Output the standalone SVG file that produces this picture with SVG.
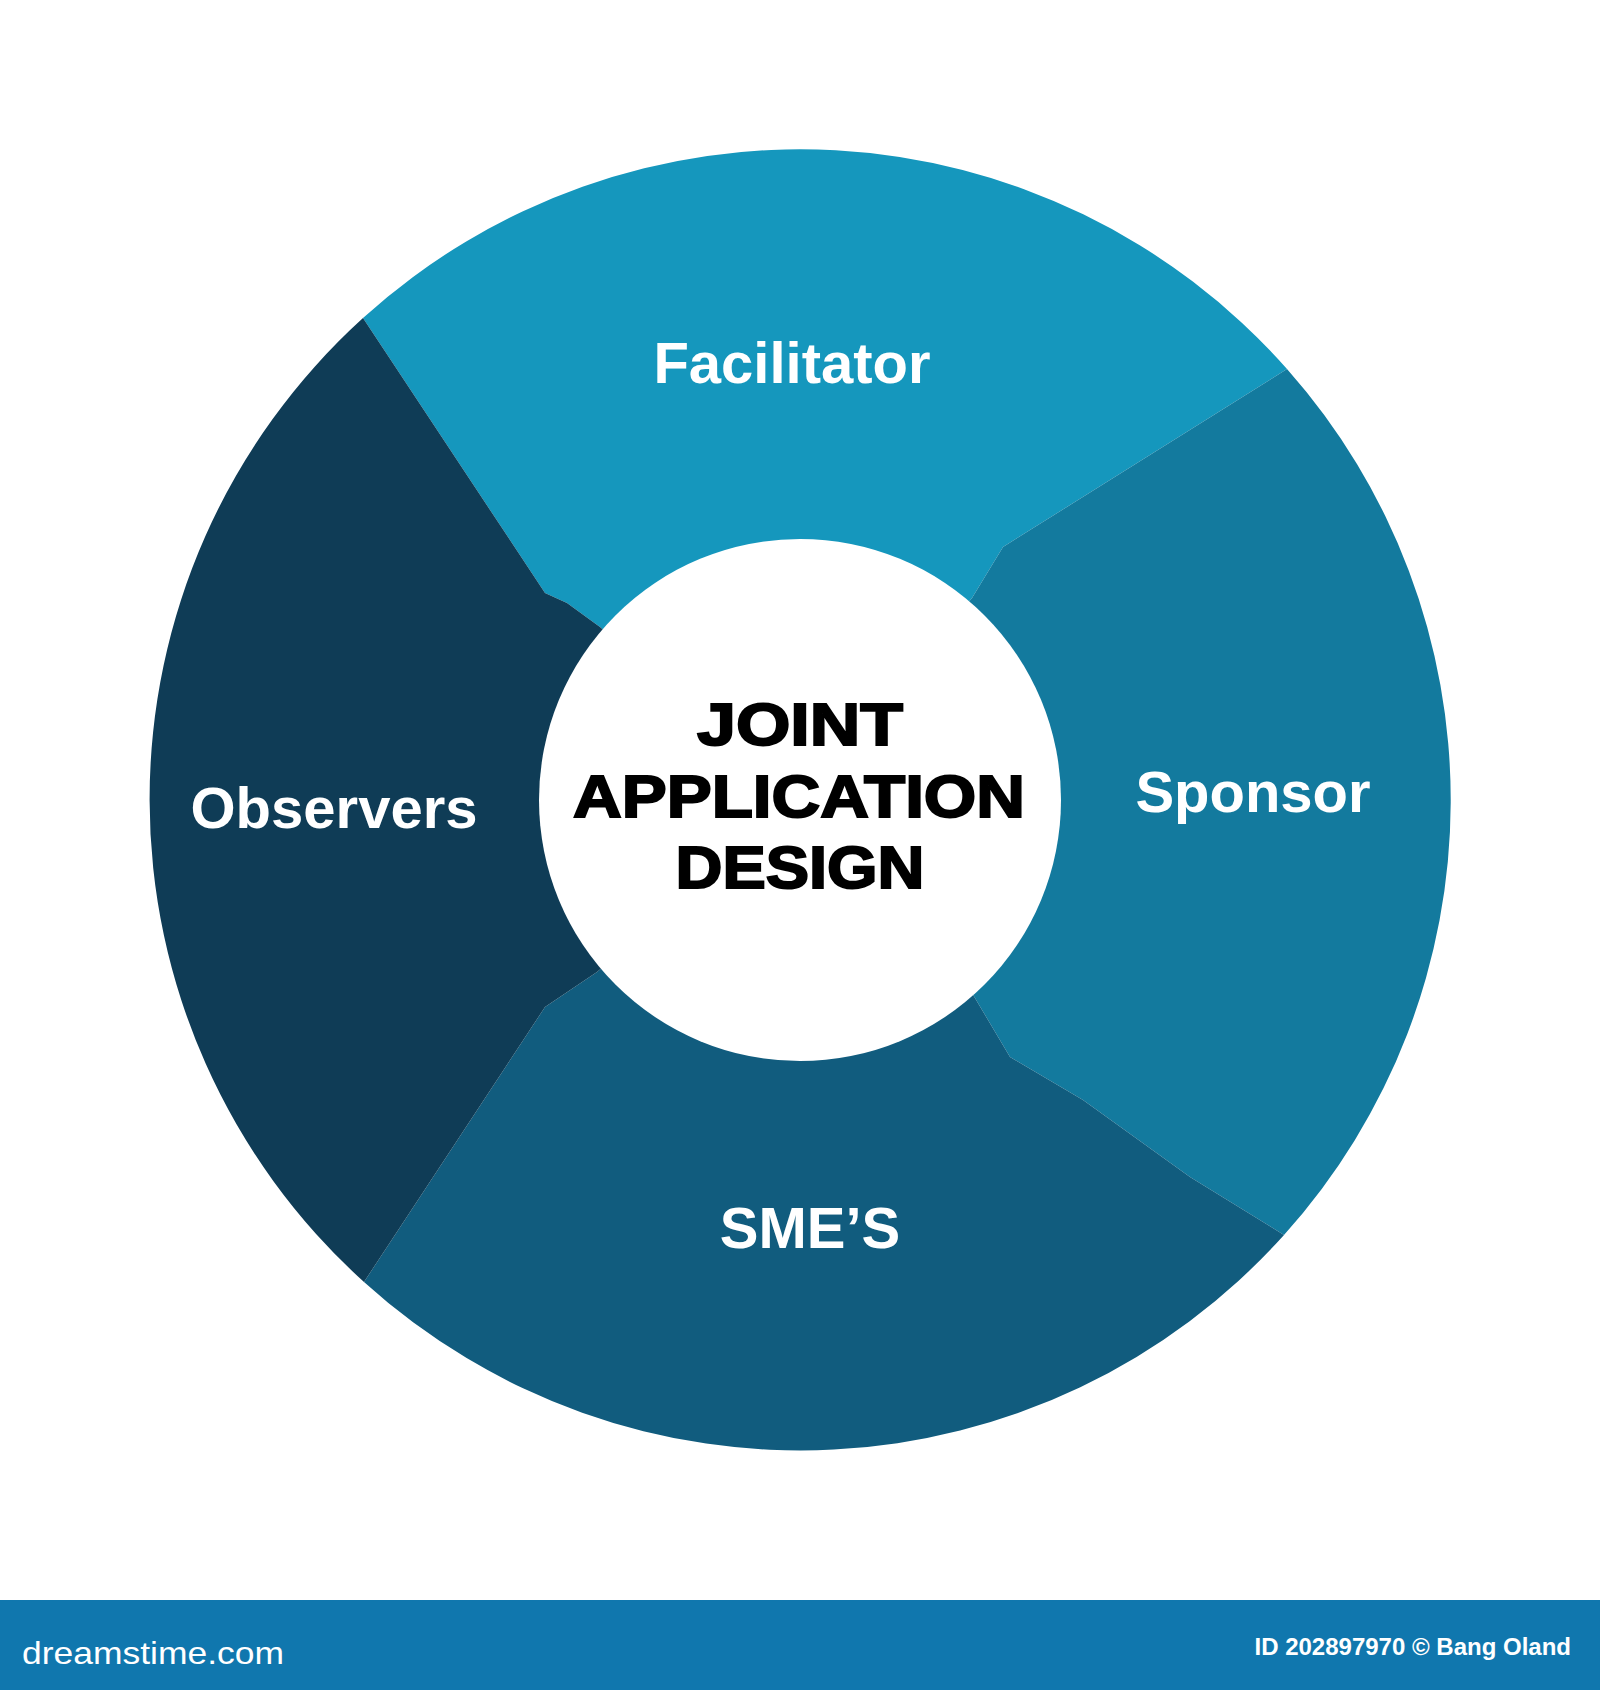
<svg xmlns="http://www.w3.org/2000/svg" width="1600" height="1690" viewBox="0 0 1600 1690">
  <style>
    .lbl { font-family: "Liberation Sans", Arial, sans-serif; font-weight: bold; font-size: 58px; fill: #ffffff; text-anchor: middle; }
    .core { font-family: "Liberation Sans", Arial, sans-serif; font-weight: bold; font-size: 60px; fill: #000000; stroke: #000000; stroke-width: 2; text-anchor: middle; }
    .ban { font-family: "Liberation Sans", Arial, sans-serif; fill: #ffffff; }
  </style>
  <rect width="1600" height="1690" fill="#ffffff"/>

  <g id="node-facilitator">
    <path d="M800,800 L600,627 L567,603 L545,593 L363,318 A650,650 0 0 1 1287,369 L1003,547 L972,598 Z" fill="#1597BD"/>
    <text class="lbl" x="792" y="383">Facilitator</text>
  </g>
  <g id="node-sponsor">
    <path d="M800,800 L972,598 L1003,547 L1287,369 A650,650 0 0 1 1284,1235 L1190,1177 L1083,1100 L1010,1057 L972,993 Z" fill="#137A9E"/>
    <text class="lbl" x="1253" y="812">Sponsor</text>
  </g>
  <g id="node-smes">
    <path d="M800,800 L972,993 L1010,1057 L1083,1100 L1190,1177 L1284,1235 A650,650 0 0 1 364,1282 L545,1007 L597,972 Z" fill="#115C7E"/>
    <text class="lbl" x="810" y="1248">SME’S</text>
  </g>
  <g id="node-observers">
    <path d="M800,800 L597,972 L545,1007 L364,1282 A650,650 0 0 1 363,318 L545,593 L567,603 L600,627 Z" fill="#0F3C56"/>
    <text class="lbl" x="334" y="828">Observers</text>
  </g>

  <g id="node-center">
    <circle cx="800" cy="800" r="261" fill="#ffffff"/>
    <text class="core" x="800" y="745" textLength="206" lengthAdjust="spacingAndGlyphs">JOINT</text>
    <text class="core" x="799" y="817" textLength="452" lengthAdjust="spacingAndGlyphs">APPLICATION</text>
    <text class="core" x="800" y="888" textLength="249" lengthAdjust="spacingAndGlyphs">DESIGN</text>
  </g>

  <g id="connectors"></g>

  <g id="banner">
    <rect x="0" y="1600" width="1600" height="90" fill="#1077AE"/>
    <text class="ban" x="22" y="1664" font-size="32" textLength="262" lengthAdjust="spacingAndGlyphs">dreamstime.com</text>
    <text class="ban" x="1571" y="1655" font-size="24" font-weight="bold" text-anchor="end">ID 202897970 © Bang Oland</text>
  </g>
</svg>
